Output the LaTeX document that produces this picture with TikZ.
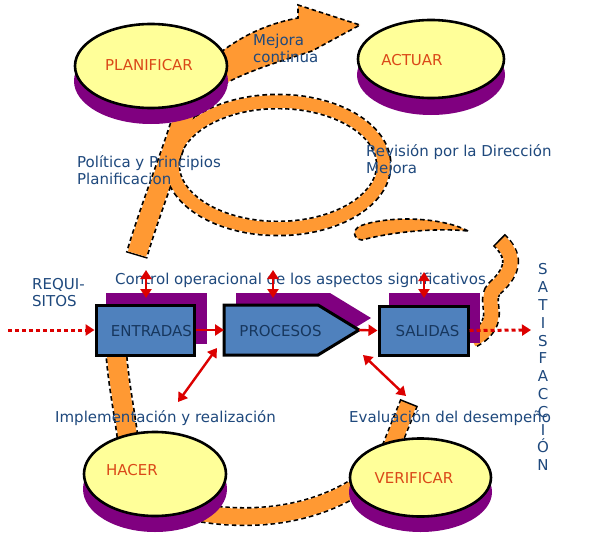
\documentclass[tikz,border=0pt]{standalone}
\usepackage{fontspec}
\setmainfont{DejaVu Sans}
\usetikzlibrary{arrows.meta,shapes.geometric}
\definecolor{bandor}{RGB}{255,153,51}
\definecolor{diskyel}{RGB}{255,255,153}
\definecolor{diskpur}{RGB}{128,0,128}
\definecolor{boxblue}{RGB}{79,129,189}
\definecolor{boxtxt}{RGB}{23,55,94}
\definecolor{txtblue}{RGB}{31,73,125}
\definecolor{lbl}{RGB}{218,72,24}
\definecolor{arrred}{RGB}{220,0,0}
\begin{document}
\begin{tikzpicture}[x=1pt,y=-1pt,
  txt/.style={font=\fontsize{15}{17.5}\selectfont, inner sep=0pt},
  bluetxt/.style={txt, text=txtblue, align=left, anchor=north west},
  bluebase/.style={txt, text=txtblue, anchor=base west},
  disk/.style={ellipse, draw=black, line width=2.6pt, fill=diskyel, inner sep=0pt},
  shadowdisk/.style={ellipse, fill=diskpur, inner sep=0pt},
  disklabel/.style={txt, text=lbl},
  boxlabel/.style={txt, text=boxtxt},
  procbox/.style={draw=black, line width=3pt, fill=boxblue, inner sep=0pt},
  bandedge/.style={draw=black, dash pattern=on 4.5pt off 3pt},
  bandfill/.style={draw=bandor},
  tipA/.tip={Triangle[length=9pt,width=11pt]},
  redarrow/.style={draw=arrred, line width=2.4pt, -tipA},
  reddouble/.style={draw=arrred, line width=2.4pt, tipA-tipA},
  reddots/.style={draw=arrred, line width=3pt, dash pattern=on 4pt off 3pt, -tipA},
]
\fill[white] (0,0) rectangle (597,543);
\useasboundingbox (0,0) rectangle (597,543);

% ---- orange bands: outlines
\draw[bandedge, line width=15.9pt] (278,165) ellipse [x radius=105.75, y radius=63.5];
\draw[bandedge, line width=22.4pt, shorten >=-1.6pt] (185,112) .. controls (170,160) and (150,210) .. (137,254);
\draw[bandedge, line width=22.2pt] (116,350) .. controls (118,380) and (124,410) .. (128,440);
\draw[bandedge, line width=19.2pt] (195,512) .. controls (260,524) and (320,512) .. (362,483);
\draw[bandedge, line width=19.2pt, shorten <=-1.6pt] (408.5,404) -- (390,450);
\draw[bandedge, line width=17.2pt, shorten <=-1.6pt] (500,241) .. controls (515,255) and (515,270) .. (495,288) .. controls (485,298) and (495,310) .. (490,322) .. controls (487,330) and (480,336) .. (472,340);
% ---- orange bands: fills
\draw[bandfill, line width=12.5pt] (278,165) ellipse [x radius=105.75, y radius=63.5];
\draw[bandfill, line width=19pt] (185,112) .. controls (170,160) and (150,210) .. (137,254);
\draw[bandfill, line width=18.8pt] (116,350) .. controls (118,380) and (124,410) .. (128,440);
\draw[bandfill, line width=16pt] (195,512) .. controls (260,524) and (320,512) .. (362,483);
\draw[bandfill, line width=16pt] (408.5,404) -- (390,450);
\draw[bandfill, line width=14pt] (500,241) .. controls (515,255) and (515,270) .. (495,288) .. controls (485,298) and (495,310) .. (490,322) .. controls (487,330) and (480,336) .. (472,340);
% top arrow (Mejora continua)
\draw[bandedge, fill=bandor, line width=1.6pt] (224,84) .. controls (255,68) and (285,60) .. (312,51) -- (360,25) -- (298,5) -- (298,18) .. controls (265,24) and (238,38) .. (216,56) -- cycle;
% crescent
\draw[bandedge, fill=bandor, line width=1.6pt] (468,231) .. controls (440,216) and (385,216) .. (360,226) .. controls (352,230) and (353,239) .. (362,240) .. controls (395,231) and (440,228) .. (468,231) -- cycle;

% ---- disks
\node[shadowdisk, minimum width=154pt, minimum height=86pt] (planS) at (151,81) {};
\node[disk, minimum width=152pt, minimum height=84pt] (plan) at (151,66) {};
\node[shadowdisk, minimum width=148pt, minimum height=80pt] (actS) at (431,75) {};
\node[disk, minimum width=146pt, minimum height=78pt] (act) at (431,59) {};
\node[shadowdisk, minimum width=144pt, minimum height=86pt] (hacS) at (155,489) {};
\node[disk, minimum width=142pt, minimum height=84pt] (hac) at (155,474) {};
\node[shadowdisk, minimum width=143pt, minimum height=80pt] (verS) at (420.5,492) {};
\node[disk, minimum width=141pt, minimum height=78pt] (ver) at (420.5,477.5) {};

\node[disklabel] (planT) at (149,65) {PLANIFICAR};
\node[disklabel] (actT) at (412,60) {ACTUAR};
\node[disklabel] (hacT) at (132,470) {HACER};
\node[disklabel] (verT) at (414,478) {VERIFICAR};

% ---- process boxes
\fill[diskpur] (106,293) rectangle (207,344);
\node[procbox, minimum width=98pt, minimum height=50pt] (ent) at (145,330) {};
\fill[diskpur] (236,293) -- (330,293) -- (371,318) -- (330,343) -- (236,343) -- cycle;
\draw[procbox] (224,305) -- (318,305) -- (359,330) -- (318,355) -- (224,355) -- cycle;
\coordinate (procW) at (224,330);
\coordinate (procE) at (359,330);
\fill[diskpur] (389,293) rectangle (480,343);
\node[procbox, minimum width=89pt, minimum height=49pt] (sal) at (423.5,330.5) {};

\node[boxlabel] (entT) at (151.5,331) {ENTRADAS};
\node[boxlabel] (procT) at (280.5,331) {PROCESOS};
\node[boxlabel] (salT) at (427.5,331) {SALIDAS};

% ---- texts
\node[bluetxt] (mej) at (253,33.6) {Mejora\\continua};
\node[bluetxt] (pol) at (77,155) {Política y Principios\\Planificacion};
\node[bluetxt] (rev) at (366,144) {Revisión por la Dirección\\Mejora};
\node[bluetxt] (req) at (32,278) {REQUI-\\SITOS};
\node[bluebase] (ctl) at (115,284) {Control operacional de los aspectos significativos};
\node[bluebase] (imp) at (55,422) {Implementación y realización};
\node[bluebase] (eva) at (349,422) {Evaluación del desempeño};
\node[txt, text=txtblue, align=center, anchor=north, font=\fontsize{15}{17.8}\selectfont] (sat) at (543,263.5) {S\\A\\T\\I\\S\\F\\A\\C\\C\\I\\Ó\\N};

% ---- red arrows
\coordinate (inS) at (8,330);
\coordinate (outE) at (531,330);
\draw[reddots] (inS) -- (ent.west);
\draw[redarrow] (ent.east) -- (procW);
\draw[redarrow] (procE) -- (sal.west);
\draw[reddots] (sal.east) -- (outE);
\coordinate (v1t) at (146,270); \coordinate (v1b) at (146,298);
\coordinate (v2t) at (273,270); \coordinate (v2b) at (273,298);
\coordinate (v3t) at (424,272); \coordinate (v3b) at (424,298);
\draw[reddouble] (v1t) -- (v1b);
\draw[reddouble] (v2t) -- (v2b);
\draw[reddouble] (v3t) -- (v3b);
\coordinate (d1a) at (217,348); \coordinate (d1b) at (178,402);
\coordinate (d2a) at (363,355); \coordinate (d2b) at (406,396);
\draw[reddouble] (d1a) -- (d1b);
\draw[reddouble] (d2a) -- (d2b);
\end{tikzpicture}
\end{document}
